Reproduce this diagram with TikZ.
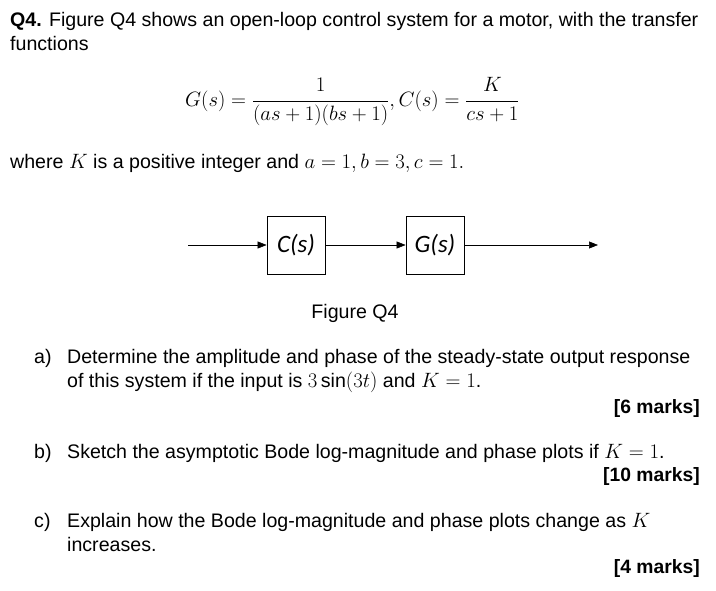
\documentclass[tikz,border=0pt]{standalone}
\usepackage{fontspec}
\setmainfont{Liberation Sans}
\newfontfamily\carlitofont{Carlito}
\usetikzlibrary{arrows.meta}
\begin{document}
\begin{tikzpicture}[x=1pt,y=-1pt,
  txt/.style={anchor=base west,inner sep=0pt,font=\fontsize{19.6}{22}\selectfont},
  rtxt/.style={anchor=base east,inner sep=0pt,font=\fontsize{19.3}{22}\bfseries\selectfont},
  blk/.style={draw,line width=0.8pt,minimum width=58pt,minimum height=58pt,inner sep=0pt,font=\fontsize{25}{28}\carlitofont\itshape\selectfont},
  sig/.style={-{Triangle[length=9pt,width=7pt]},line width=0.6pt}]
\useasboundingbox (0,0) rectangle (716,590);
\node[txt] (l1) at (10,26) {\textbf{Q4.} Figure Q4 shows an open-loop control system for a motor, with the transfer};
\node[txt] (l2) at (10,50) {functions};
\node[txt,font=\fontsize{20.5}{22}\selectfont] (eq) at (185,106) {$\displaystyle G(s)=\frac{1}{(as+1)(bs+1)},C(s)=\frac{K}{cs+1}$};
\node[txt] (l3) at (10,168) {where $K$ is a positive integer and $a=1,b=3,c=1.$};
\node[blk] (C) at (296,245) {C(s)};
\node[blk] (G) at (435,245) {G(s)};
\coordinate (in) at (188,245);
\coordinate (out) at (598,245);
\draw[sig] (in) -- (C);
\draw[sig] (C) -- (G);
\draw[sig] (G) -- (out);
\node[txt,anchor=base] (fig) at (355,318) {Figure Q4};
\node[txt] (a0) at (34,363) {a)};
\node[txt] (a1) at (67,363) {Determine the amplitude and phase of the steady-state output response};
\node[txt] (a2) at (67,387) {of this system if the input is $3\sin(3t)$ and $K=1$.};
\node[rtxt] (am) at (700,413) {[6 marks]};
\node[txt] (b0) at (34,458) {b)};
\node[txt] (b1) at (67,458) {Sketch the asymptotic Bode log-magnitude and phase plots if $K=1$.};
\node[rtxt] (bm) at (700,481) {[10 marks]};
\node[txt] (c0) at (34,527) {c)};
\node[txt] (c1) at (67,527) {Explain how the Bode log-magnitude and phase plots change as $K$};
\node[txt] (c2) at (67,551) {increases.};
\node[rtxt] (cm) at (700,573) {[4 marks]};
\end{tikzpicture}
\end{document}
